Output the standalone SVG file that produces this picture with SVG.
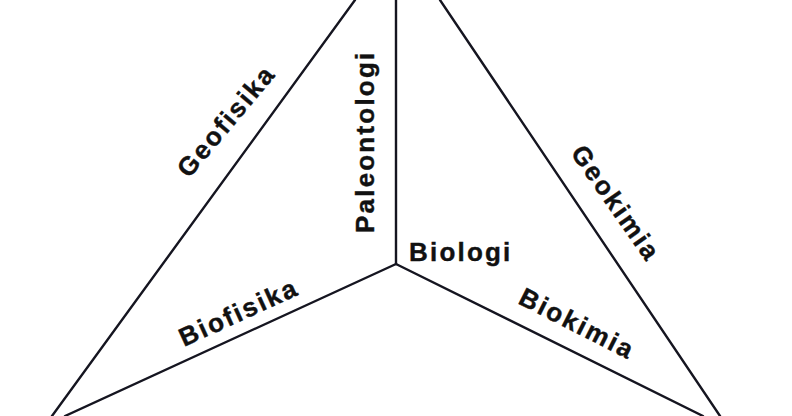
<svg xmlns="http://www.w3.org/2000/svg" width="792" height="416" viewBox="0 0 792 416">
<style>
.l{stroke:#151520;stroke-width:2.4;fill:none;stroke-linecap:round}
.t{font-family:"Liberation Sans",Arial,sans-serif;font-weight:bold;font-size:26px;letter-spacing:2.2px;fill:#111;stroke:#111;stroke-width:0.4}
</style>
<rect width="792" height="416" fill="#fff"/>
<g id="connectors">
<line class="l" x1="355" y1="0" x2="52" y2="416"/>
<line class="l" x1="440" y1="0" x2="720" y2="416"/>
<line class="l" x1="396" y1="0" x2="396" y2="264"/>
<line class="l" x1="396" y1="264" x2="65" y2="416"/>
<line class="l" x1="396" y1="264" x2="703" y2="416"/>
</g>
<g id="geofisika"><text class="t" transform="translate(189,179) rotate(-50)">Geofisika</text></g>
<g id="paleontologi"><text class="t" transform="translate(374,233) rotate(-90)">Paleontologi</text></g>
<g id="geokimia"><text class="t" transform="translate(570,153) rotate(55)">Geokimia</text></g>
<g id="biologi"><text class="t" x="409" y="261">Biologi</text></g>
<g id="biofisika"><text class="t" transform="translate(184,347) rotate(-24.5)">Biofisika</text></g>
<g id="biokimia"><text class="t" transform="translate(517,303) rotate(27)">Biokimia</text></g>
</svg>
